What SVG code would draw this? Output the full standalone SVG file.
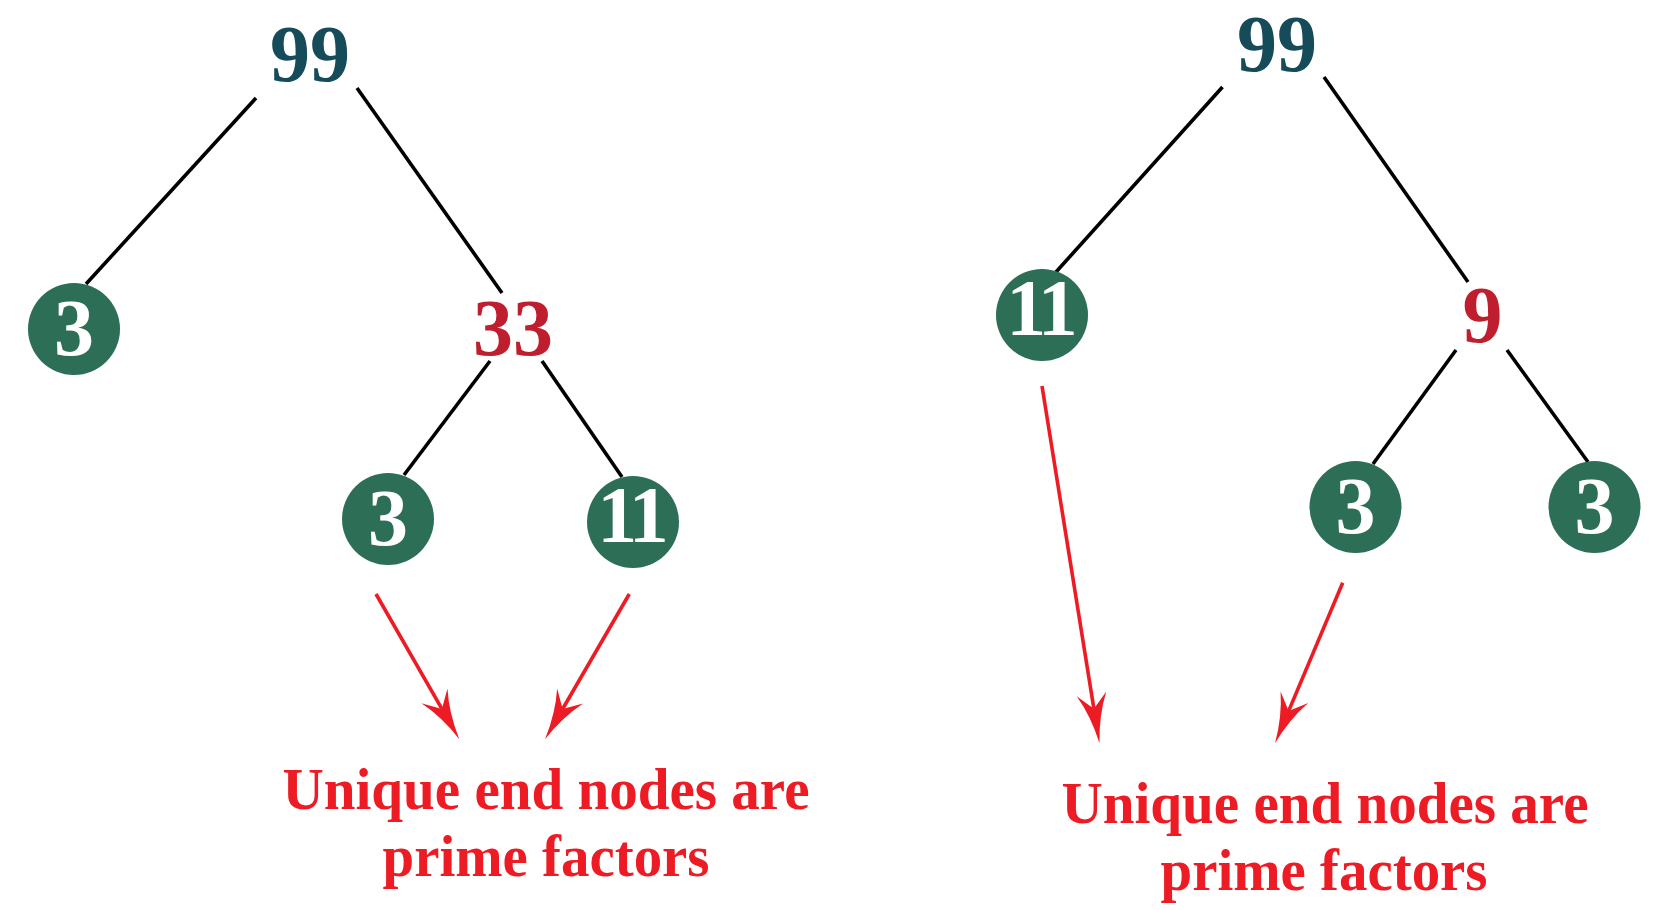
<svg xmlns="http://www.w3.org/2000/svg" width="1668" height="910" viewBox="0 0 1668 910">
  <style>
    .edge { stroke: #000000; stroke-width: 3.6; fill: none; }
    .arrow { stroke: #ed1c24; stroke-width: 3.6; fill: none; marker-end: url(#head); }
    .num { font-family: "Liberation Serif", "Times New Roman", serif; font-weight: bold; font-size: 80px; text-anchor: middle; }
    .root { fill: #164b5a; }
    .mid { fill: #bf1e2e; }
    .leaf circle { fill: #2c6e56; }
    .leaf text { fill: #ffffff; }
    .eleven { letter-spacing: -4px; }
    .note { font-family: "Liberation Serif", "Times New Roman", serif; font-weight: bold; font-size: 59px; fill: #ed1c24; text-anchor: middle; }
  </style>
  <defs>
    <marker id="head" markerUnits="userSpaceOnUse" viewBox="-52 -17 54 34" markerWidth="54" markerHeight="34" refX="-35" refY="0" orient="auto" overflow="visible">
      <path d="M0,0 Q-28,-4 -50,-15 L-35,0 L-50,15 Q-28,4 0,0 Z" fill="#ed1c24"/>
    </marker>
  </defs>
  <rect width="1668" height="910" fill="#ffffff"/>

  <g id="connectors">
    <line class="edge" x1="256" y1="98" x2="86" y2="284"/>
    <line class="edge" x1="357" y1="88" x2="502" y2="293"/>
    <line class="edge" x1="490" y1="361" x2="404" y2="475"/>
    <line class="edge" x1="542" y1="361" x2="622" y2="477"/>
    <line class="edge" x1="1222.5" y1="87" x2="1056" y2="272"/>
    <line class="edge" x1="1324" y1="77" x2="1468" y2="282"/>
    <line class="edge" x1="1456" y1="350" x2="1373" y2="464"/>
    <line class="edge" x1="1507" y1="350" x2="1588" y2="462"/>
    <line class="arrow" x1="376" y1="594" x2="441.9" y2="708.9"/>
    <line class="arrow" x1="629.3" y1="594" x2="562.6" y2="709"/>
    <line class="arrow" x1="1042" y1="386" x2="1093.9" y2="708.7"/>
    <line class="arrow" x1="1342.7" y1="582.7" x2="1288.6" y2="711.1"/>
  </g>

  <g id="left-99"><text class="num root" x="310" y="81">99</text></g>
  <g id="left-3" class="leaf"><circle cx="74" cy="329" r="46"/><text class="num" x="74" y="355">3</text></g>
  <g id="left-33"><text class="num mid" x="513" y="355">33</text></g>
  <g id="left-33-3" class="leaf"><circle cx="388" cy="519" r="46"/><text class="num" x="388" y="545">3</text></g>
  <g id="left-33-11" class="leaf"><circle cx="633" cy="522" r="46"/><text class="num eleven" x="631" y="542">11</text></g>

  <g id="right-99"><text class="num root" x="1277" y="71">99</text></g>
  <g id="right-11" class="leaf"><circle cx="1042" cy="315" r="46"/><text class="num eleven" x="1040" y="335">11</text></g>
  <g id="right-9"><text class="num mid" x="1482.5" y="342">9</text></g>
  <g id="right-9-3a" class="leaf"><circle cx="1355.5" cy="507" r="46"/><text class="num" x="1355.5" y="533">3</text></g>
  <g id="right-9-3b" class="leaf"><circle cx="1594.5" cy="507" r="46"/><text class="num" x="1594.5" y="533">3</text></g>

  <g id="left-note">
    <text class="note" x="546" y="809" textLength="527" lengthAdjust="spacingAndGlyphs">Unique end nodes are</text>
    <text class="note" x="546" y="876" textLength="327" lengthAdjust="spacingAndGlyphs">prime factors</text>
  </g>
  <g id="right-note">
    <text class="note" x="1325" y="823" textLength="527" lengthAdjust="spacingAndGlyphs">Unique end nodes are</text>
    <text class="note" x="1324" y="890" textLength="327" lengthAdjust="spacingAndGlyphs">prime factors</text>
  </g>
</svg>
